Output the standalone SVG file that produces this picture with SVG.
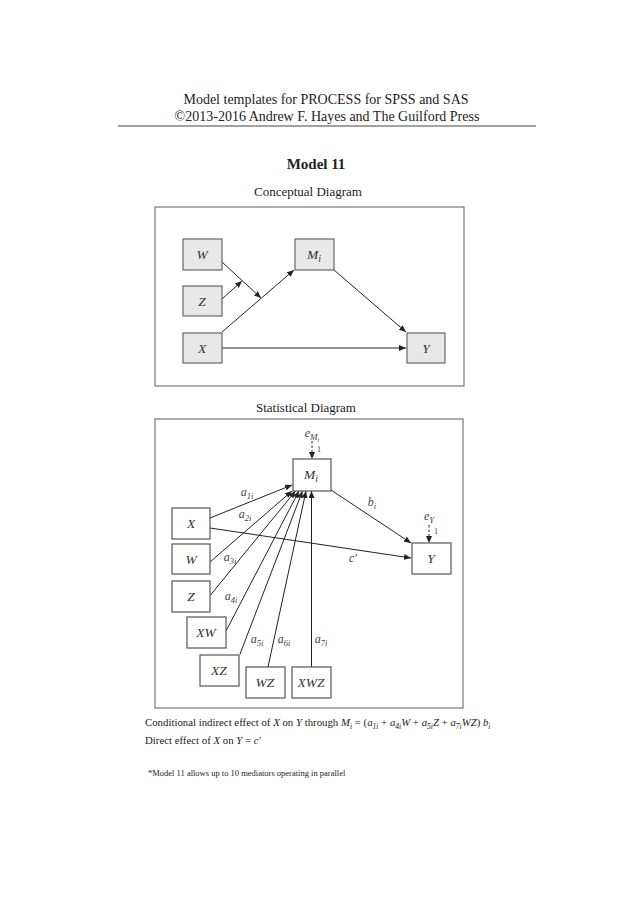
<svg xmlns="http://www.w3.org/2000/svg" width="638" height="902" viewBox="0 0 638 902">
<style>
.hdr{font-family:"Liberation Serif","DejaVu Serif",serif;font-size:14px;fill:#222;text-anchor:middle}
.ttl{font-family:"Liberation Serif",serif;font-size:13px;fill:#222;text-anchor:middle}
.frame{fill:#fff;stroke:#777;stroke-width:1.2}
.cbox{fill:#e8e8e8;stroke:#666;stroke-width:1.2}
.sbox{fill:#fff;stroke:#555;stroke-width:1.2}
.lab{font-family:"Liberation Serif",serif;font-style:italic;font-size:13.5px;fill:#333;text-anchor:middle}
.sm{font-family:"Liberation Serif",serif;font-style:italic;font-size:12px;fill:#444;text-anchor:middle}
.one{font-family:"Liberation Serif",serif;font-size:8px;fill:#444}
.ln{stroke:#222;stroke-width:1;fill:none;marker-end:url(#ah)}
.dash{stroke:#222;stroke-width:1;fill:none;stroke-dasharray:2.5,2;marker-end:url(#ah)}
.body{font-family:"Liberation Serif",serif;font-size:10.8px;fill:#222}
.note{font-family:"Liberation Serif",serif;font-size:8.5px;fill:#222}
</style>
<defs>
<marker id="ah" markerUnits="userSpaceOnUse" markerWidth="8" markerHeight="6" refX="7" refY="3" orient="auto">
<path d="M0,0 L7,3 L0,6 z" fill="#222"/>
</marker>
</defs>
<rect width="638" height="902" fill="#fff"/>
<text class="hdr" x="326" y="104">Model templates for PROCESS for SPSS and SAS</text>
<text class="hdr" x="327" y="121">©2013-2016 Andrew F. Hayes and The Guilford Press</text>
<line x1="118" y1="126" x2="536" y2="126" stroke="#444" stroke-width="1"/>
<text x="316" y="169" font-family="Liberation Serif,serif" font-size="15" font-weight="bold" fill="#222" text-anchor="middle">Model 11</text>
<text class="ttl" x="308" y="196">Conceptual Diagram</text>
<text class="ttl" x="306" y="412">Statistical Diagram</text>

<rect class="frame" x="155" y="207" width="309" height="179"/>
<rect class="frame" x="155" y="419" width="308" height="289"/>

<g id="connectors">
<line class="ln" x1="222" y1="332" x2="294" y2="270"/>
<line class="ln" x1="222" y1="262" x2="261" y2="298"/>
<line class="ln" x1="222" y1="299" x2="242" y2="281"/>
<line class="ln" x1="334" y1="270" x2="406" y2="332"/>
<line class="ln" x1="222" y1="348" x2="406" y2="348"/>

<line class="ln" x1="210" y1="518" x2="292" y2="485"/>
<line class="ln" x1="210" y1="562" x2="292" y2="491"/>
<line class="ln" x1="210.5" y1="595" x2="295.5" y2="491"/>
<line class="ln" x1="226" y1="631" x2="299" y2="491"/>
<line class="ln" x1="240" y1="654" x2="302.5" y2="491"/>
<line class="ln" x1="268" y1="667" x2="306" y2="491"/>
<line class="ln" x1="311.5" y1="667" x2="311.5" y2="491"/>
<line class="ln" x1="210" y1="528" x2="411" y2="558"/>
<line class="ln" x1="331" y1="490" x2="411" y2="543"/>
<line class="dash" x1="312" y1="441" x2="312" y2="459"/>
<line class="dash" x1="429" y1="525" x2="429" y2="543"/>
</g>

<g id="c-W"><rect class="cbox" x="183" y="239" width="39" height="31"/><text class="lab" x="202" y="259">W</text></g>
<g id="c-Z"><rect class="cbox" x="183" y="286" width="39" height="30"/><text class="lab" x="202" y="306">Z</text></g>
<g id="c-X"><rect class="cbox" x="183" y="333" width="39" height="30"/><text class="lab" x="202" y="353">X</text></g>
<g id="c-M"><rect class="cbox" x="295" y="239" width="39" height="31"/><text class="lab" x="314" y="259">M<tspan font-size="10" dy="3">i</tspan></text></g>
<g id="c-Y"><rect class="cbox" x="407" y="333" width="38" height="30"/><text class="lab" x="426" y="353">Y</text></g>

<g id="s-M"><rect class="sbox" x="293" y="459" width="38" height="32"/><text class="lab" x="311" y="479">M<tspan font-size="10" dy="3">i</tspan></text></g>
<g id="s-X"><rect class="sbox" x="172" y="508" width="38" height="31"/><text class="lab" x="191" y="528">X</text></g>
<g id="s-W"><rect class="sbox" x="172" y="544" width="38" height="30"/><text class="lab" x="191" y="564">W</text></g>
<g id="s-Z"><rect class="sbox" x="172" y="581" width="38" height="31"/><text class="lab" x="191" y="601">Z</text></g>
<g id="s-XW"><rect class="sbox" x="187" y="617" width="39" height="31"/><text class="lab" x="206" y="637">XW</text></g>
<g id="s-XZ"><rect class="sbox" x="200" y="655" width="39" height="31"/><text class="lab" x="219" y="675">XZ</text></g>
<g id="s-WZ"><rect class="sbox" x="246" y="667" width="39" height="31"/><text class="lab" x="265" y="687">WZ</text></g>
<g id="s-XWZ"><rect class="sbox" x="292" y="667" width="39" height="31"/><text class="lab" x="311" y="687">XWZ</text></g>
<g id="s-Y"><rect class="sbox" x="412" y="543" width="39" height="31"/><text class="lab" x="431" y="563">Y</text></g>

<g id="labels">
<text class="sm" x="312" y="437" font-size="14">e<tspan font-size="9" dy="3">M</tspan><tspan font-size="6.5" dy="2">i</tspan></text>
<text class="one" x="317" y="452">1</text>
<text class="sm" x="429" y="520" font-size="13">e<tspan font-size="8.5" dy="3">Y</tspan></text>
<text class="one" x="434" y="534">1</text>
<text class="sm" x="247" y="496">a<tspan font-size="8.5" dy="3">1i</tspan></text>
<text class="sm" x="245" y="518">a<tspan font-size="8.5" dy="3">2i</tspan></text>
<text class="sm" x="230" y="561">a<tspan font-size="8.5" dy="3">3i</tspan></text>
<text class="sm" x="231" y="600">a<tspan font-size="8.5" dy="3">4i</tspan></text>
<text class="sm" x="257" y="643">a<tspan font-size="8.5" dy="3">5i</tspan></text>
<text class="sm" x="284" y="643">a<tspan font-size="8.5" dy="3">6i</tspan></text>
<text class="sm" x="321" y="643">a<tspan font-size="8.5" dy="3">7i</tspan></text>
<text class="sm" x="372" y="506">b<tspan font-size="8.5" dy="3">i</tspan></text>
<text class="sm" x="353" y="562">c'</text>
</g>

<text class="body" x="145" y="726">Conditional indirect effect of <tspan font-style="italic">X</tspan> on <tspan font-style="italic">Y</tspan> through <tspan font-style="italic">M</tspan><tspan font-style="italic" font-size="7.5" dy="3">i</tspan><tspan dy="-3"> = (</tspan><tspan font-style="italic">a</tspan><tspan font-style="italic" font-size="7.5" dy="3">1i</tspan><tspan dy="-3"> + </tspan><tspan font-style="italic">a</tspan><tspan font-style="italic" font-size="7.5" dy="3">4i</tspan><tspan font-style="italic" dy="-3">W</tspan> + <tspan font-style="italic">a</tspan><tspan font-style="italic" font-size="7.5" dy="3">5i</tspan><tspan font-style="italic" dy="-3">Z</tspan> + <tspan font-style="italic">a</tspan><tspan font-style="italic" font-size="7.5" dy="3">7i</tspan><tspan font-style="italic" dy="-3">WZ</tspan>) <tspan font-style="italic">b</tspan><tspan font-style="italic" font-size="7.5" dy="3">i</tspan></text>
<text class="body" x="145" y="744">Direct effect of <tspan font-style="italic">X</tspan> on <tspan font-style="italic">Y</tspan> = <tspan font-style="italic">c′</tspan></text>
<text class="note" x="148" y="776">*Model 11 allows up to 10 mediators operating in parallel</text>
</svg>
